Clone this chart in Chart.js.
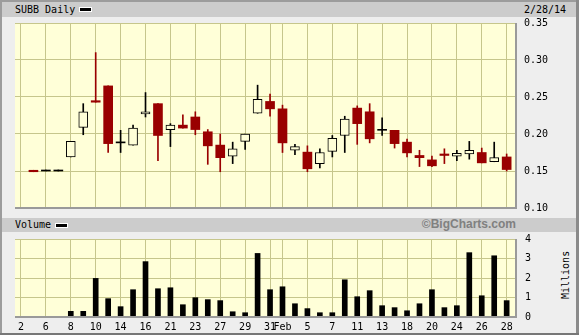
<!DOCTYPE html>
<html>
<head>
<meta charset="utf-8">
<script src="https://cdn.jsdelivr.net/npm/chart.js@4.4.0/dist/chart.umd.min.js"></script>
<style>
body { margin: 0; }
#frame { position: relative; width: 579px; height: 335px; background: #eeeeee; overflow: hidden;
  font-family: "DejaVu Sans Mono", monospace; font-size: 10px; color: #000; }
.abs { position: absolute; }
.txt { position: absolute; line-height: 12px; white-space: nowrap; }
.mark { position: absolute; background: #000; border: 1px solid #fff; }
</style>
</head>
<body>
<div id="frame">
  <!-- frame lines and title bands -->
  <div class="abs" style="left:0;top:0;width:579px;height:2px;background:#9c9c9c"></div>
  <div class="abs" style="left:0;top:0;width:2px;height:335px;background:#9c9c9c"></div>
  <div class="abs" style="right:0;top:0;width:3px;height:335px;background:#8a8a8a"></div>
  <div class="abs" style="left:0;bottom:0;width:579px;height:2px;background:#777"></div>
  <div class="abs" style="left:2px;top:2px;width:574px;height:15px;background:#cccccc"></div>
  <div class="abs" style="left:2px;top:218px;width:574px;height:14px;background:#cccccc"></div>

  <div class="txt" style="left:15px;top:4px">SUBB Daily</div>
  <div class="mark" style="left:79px;top:7px;width:11px;height:3px"></div>
  <div class="txt" style="left:524px;top:4px">2/28/14</div>

  <div class="txt" style="left:15px;top:219px">Volume</div>
  <div class="mark" style="left:55px;top:223px;width:11px;height:3px"></div>
  <div class="txt" style="right:63px;top:218px;font-family:'Liberation Sans',Arial,sans-serif;font-weight:bold;font-size:12px;color:#808080">©BigCharts.com</div>
  <div class="txt" style="left:542px;top:269px;width:48px;text-align:center;transform:rotate(-90deg)">Millions</div>

  <canvas id="priceChart" class="abs" style="left:0;top:0" width="579" height="214"></canvas>
  <canvas id="volChart" class="abs" style="left:0;top:232px" width="579" height="101"></canvas>
</div>
<script>
// trading days Jan 2 .. Feb 28, 2014
var days = ['2','3','6','7','8','9','10','13','14','15','16','17','21','22','23','24','27','28','29','30','31',
            '3','4','5','6','7','10','11','12','13','14','18','19','20','21','24','25','26','27','28'];
var tickIdx  = [0, 2, 4, 6, 8, 10, 12, 14, 16, 18, 20, 21, 23, 25, 27, 29, 31, 33, 35, 37, 39];
var tickText = ['2','6','8','10','14','16','21','23','27','29','31','Feb','5','7','11','13','18','20','24','26','28'];

var openP  = [null,0.151,0.150,0.150,0.169,0.209,0.245,0.265,0.188,0.185,0.227,0.241,0.206,0.212,0.223,0.203,0.185,0.170,0.190,0.228,
              0.244,0.234,0.178,0.1755,0.160,0.1765,0.198,0.235,0.230,0.205,0.205,0.189,0.171,0.165,0.173,0.170,0.173,0.175,0.1625,0.169];
var highP  = [null,0.151,0.150,0.150,0.190,0.241,0.310,0.265,0.205,0.212,0.256,0.241,0.214,0.226,0.230,0.206,0.200,0.189,0.200,0.266,
              0.254,0.239,0.186,0.184,0.180,0.198,0.224,0.238,0.241,0.222,0.205,0.193,0.178,0.170,0.180,0.178,0.190,0.181,0.189,0.173];
var lowP   = [null,0.149,0.150,0.150,0.169,0.199,0.243,0.175,0.175,0.185,0.223,0.164,0.183,0.208,0.199,0.159,0.149,0.160,0.179,0.228,
              0.224,0.175,0.172,0.149,0.154,0.169,0.175,0.186,0.188,0.198,0.181,0.169,0.156,0.156,0.160,0.164,0.166,0.161,0.1625,0.150];
var closeP = [null,0.149,0.150,0.150,0.190,0.230,0.243,0.187,0.188,0.208,0.230,0.198,0.212,0.208,0.206,0.184,0.168,0.180,0.200,0.247,
              0.234,0.188,0.183,0.153,0.175,0.194,0.220,0.214,0.1935,0.205,0.187,0.1745,0.168,0.157,0.171,0.174,0.178,0.161,0.168,0.152];
// millions of shares
var volume = [0,0,0,0,0.29,0.29,1.98,0.94,0.53,1.40,2.84,1.45,1.50,0.63,0.99,0.89,0.84,0.27,0.22,3.26,
              1.40,1.55,0.68,0.43,0.22,0.22,1.91,1.04,1.35,0.58,0.48,0.32,0.68,1.40,0.48,0.58,3.30,1.09,3.14,0.84];

var RED = '#990000';
var PLOT_BG = '#ffffd8';
var GRID = '#c6c68c';

Chart.defaults.font.family = 'DejaVu Sans Mono';
Chart.defaults.font.size = 10;
Chart.defaults.color = '#000';

// yellow plot area + grey shadow on right/bottom
var plotBg = {
    id: 'plotBg',
    beforeDraw: function(chart) {
        var a = chart.chartArea, c = chart.ctx;
        c.save();
        c.fillStyle = PLOT_BG;
        c.fillRect(a.left, a.top, a.right - a.left, a.bottom - a.top);
        c.restore();
    },
    afterDraw: function(chart) {
        var a = chart.chartArea, c = chart.ctx;
        c.save();
        c.fillStyle = '#9a9a9a';
        c.fillRect(Math.round(a.right) - 1, a.top, 2, a.bottom - a.top + 1);
        c.fillRect(a.left, Math.round(a.bottom) - 1, a.right - a.left + 1, 2);
        c.restore();
    }
};

// keep label overflow from eating into the plot area
function noPad(s) {
    s.paddingTop = 0; s.paddingBottom = 0; s.paddingLeft = 0; s.paddingRight = 0;
}

function xScale(showLabels) {
    return {
        type: 'linear',
        min: -0.48,
        max: 39.75,
        offset: false,
        afterBuildTicks: function(s) {
            s.ticks = tickIdx.map(function(v) { return { value: v }; });
        },
        afterFit: function(s) { s.height = showLabels ? 16 : 0; noPad(s); },
        ticks: {
            display: showLabels,
            autoSkip: false,
            maxRotation: 0,
            padding: 4,
            callback: function(v) { return tickText[tickIdx.indexOf(v)]; }
        },
        grid: { offset: false, drawTicks: false, color: GRID, lineWidth: 1 },
        border: { display: false }
    };
}

// candle bodies and wicks
var bodies = [], wicks = [];
var bodyFill = [], bodyBorder = [], bodyBorderW = [], wickCol = [];
for (var i = 0; i < days.length; i++) {
    if (openP[i] === null) continue;
    var prev = i > 0 ? closeP[i - 1] : null;
    var up = closeP[i] > openP[i] || (closeP[i] === openP[i] && (prev === null || closeP[i] >= prev));
    var col = up ? '#000' : RED;
    bodies.push({ x: i, y: [openP[i], closeP[i]] });
    wicks.push({ x: i, y: [lowP[i], highP[i]] });
    if (closeP[i] > openP[i]) {
        bodyFill.push(PLOT_BG); bodyBorder.push('#000'); bodyBorderW.push(1);
    } else {
        bodyFill.push(col); bodyBorder.push(col); bodyBorderW.push(0);
    }
    wickCol.push(col);
}

new Chart(document.getElementById('priceChart'), {
    type: 'bar',
    data: {
        datasets: [{
            data: bodies,
            backgroundColor: bodyFill,
            borderColor: bodyBorder,
            borderWidth: bodyBorderW,
            borderSkipped: false,
            barThickness: 9,
            minBarLength: 1,
            grouped: false,
            order: 0
        }, {
            data: wicks,
            backgroundColor: wickCol,
            borderWidth: 0,
            barThickness: 1,
            minBarLength: 1,
            grouped: false,
            order: 1
        }]
    },
    options: {
        responsive: false,
        animation: false,
        layout: { padding: { left: 15, top: 23, right: 0, bottom: 6 } },
        plugins: { legend: { display: false }, tooltip: { enabled: false } },
        scales: {
            x: xScale(false),
            y: {
                position: 'right',
                min: 0.10,
                max: 0.35,
                afterFit: function(s) { s.width = 63; noPad(s); },
                ticks: { stepSize: 0.05, padding: 8, callback: function(v) { return v.toFixed(2); } },
                grid: { drawTicks: false, color: GRID, lineWidth: 1 },
                border: { display: false }
            }
        }
    },
    plugins: [plotBg]
});

new Chart(document.getElementById('volChart'), {
    type: 'bar',
    data: {
        datasets: [{
            data: volume.map(function(v, k) { return { x: k, y: v }; }),
            backgroundColor: '#000',
            borderWidth: 0,
            barThickness: 5
        }]
    },
    options: {
        responsive: false,
        animation: false,
        layout: { padding: { left: 15, top: 7, right: 0, bottom: 0 } },
        plugins: { legend: { display: false }, tooltip: { enabled: false } },
        scales: {
            x: xScale(true),
            y: {
                position: 'right',
                min: 0,
                max: 4,
                afterFit: function(s) { s.width = 63; noPad(s); },
                ticks: { stepSize: 1, padding: 9 },
                grid: { drawTicks: false, color: GRID, lineWidth: 1 },
                border: { display: false }
            }
        }
    },
    plugins: [plotBg]
});
</script>
</body>
</html>
